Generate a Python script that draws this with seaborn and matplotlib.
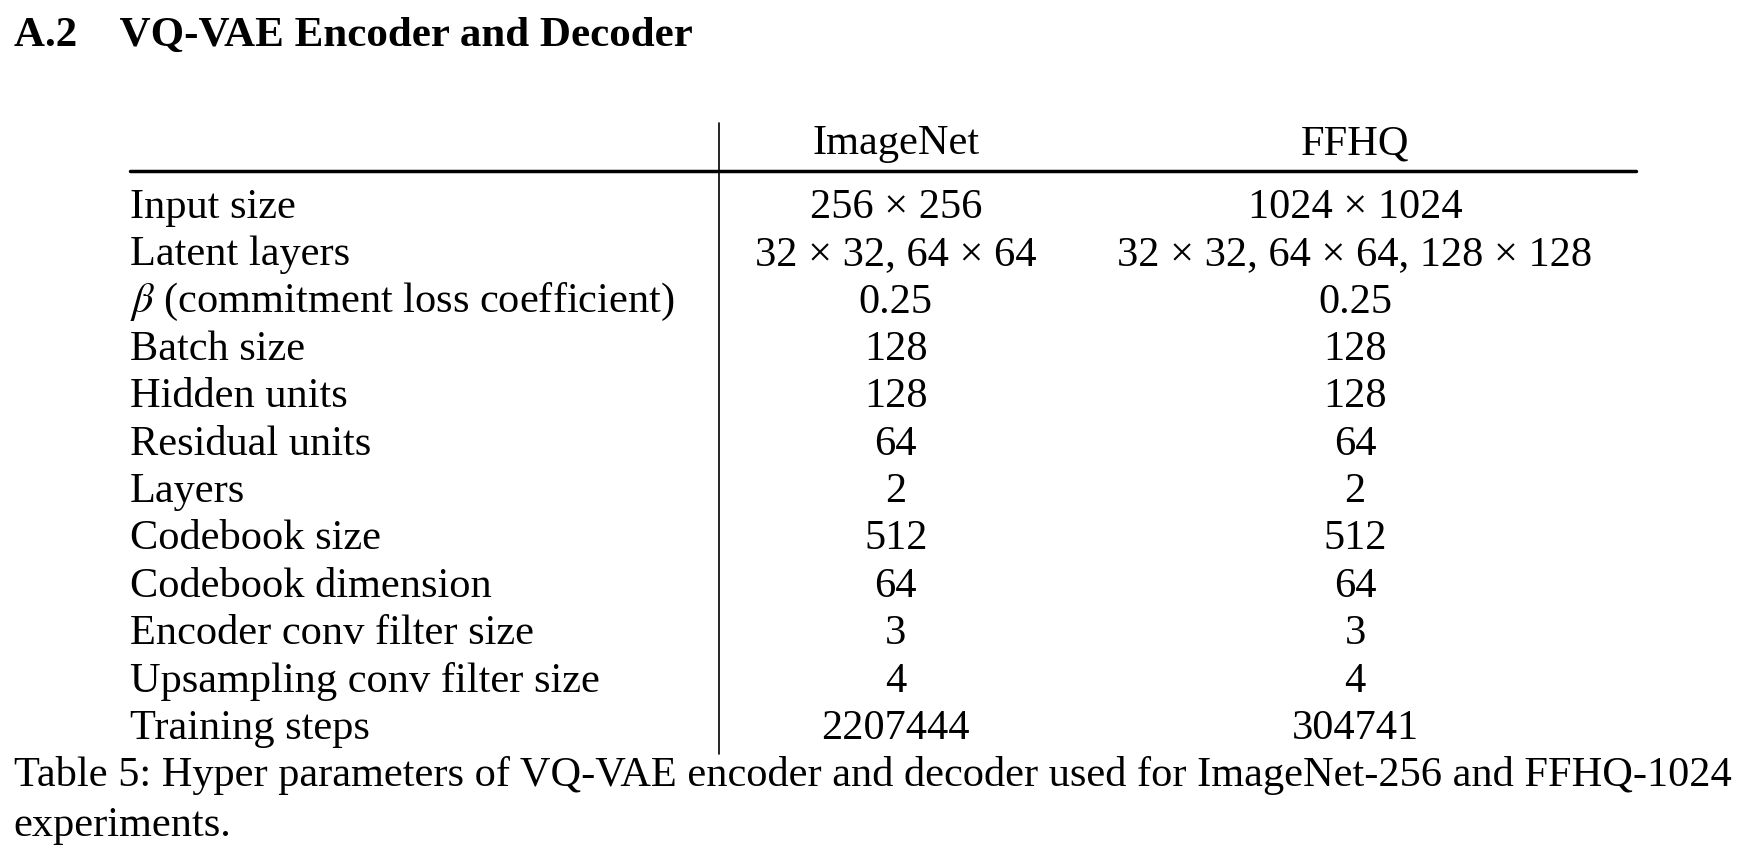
import matplotlib.pyplot as plt
import seaborn as sb

# Table content
title = "A.2    VQ-VAE Encoder and Decoder"
columns = ["ImageNet", "FFHQ"]
row_labels = ["Input size", "Latent layers", r"$\beta$ (commitment loss coefficient)",
              "Batch size", "Hidden units", "Residual units", "Layers",
              "Codebook size", "Codebook dimension", "Encoder conv filter size",
              "Upsampling conv filter size", "Training steps"]
imagenet = ["256 × 256", "32 × 32, 64 × 64", "0.25", "128", "128", "64", "2",
            "512", "64", "3", "4", "2207444"]
ffhq = ["1024 × 1024", "32 × 32, 64 × 64, 128 × 128", "0.25", "128", "128", "64", "2",
        "512", "64", "3", "4", "304741"]
caption = ["Table 5: Hyper parameters of VQ-VAE encoder and decoder used for ImageNet-256 and FFHQ-1024",
           "experiments."]

sb.set_theme(style="white")
plt.rcParams['font.family'] = ['Liberation Serif', 'DejaVu Serif']
plt.rcParams['mathtext.fontset'] = 'stix'
plt.rcParams['text.color'] = 'black'

fig = plt.figure(figsize=(17.6, 8.6), dpi=100)
ax = fig.add_axes([0, 0, 1, 1])
ax.set_xlim(0, 1560)
ax.set_ylim(770, 0)
ax.axis("off")

fs = 30.5
ax.text(12, 32, title, fontsize=31, fontweight="bold", va="center", ha="left", color="black")

col_x = [794, 1201]
for x, c in zip(col_x, columns):
    ax.text(x, 129, c, fontsize=fs, va="center", ha="center", color="black")

ax.plot([637, 637], [110, 675], color="black", lw=1.2)
ax.plot([115, 1450], [153, 153], color="black", lw=2.5)

y0, dy = 186, 42.4
for i, lab in enumerate(row_labels):
    y = y0 + i * dy
    ax.text(115, y, lab, fontsize=fs, va="center", ha="left", color="black")
    ax.text(col_x[0], y, imagenet[i], fontsize=fs, va="center", ha="center", color="black")
    ax.text(col_x[1], y, ffhq[i], fontsize=fs, va="center", ha="center", color="black")

for j, line in enumerate(caption):
    ax.text(12, 694 + j * 45, line, fontsize=fs, va="center", ha="left", color="black")

fig.savefig("out.png", dpi=100, facecolor="white")
